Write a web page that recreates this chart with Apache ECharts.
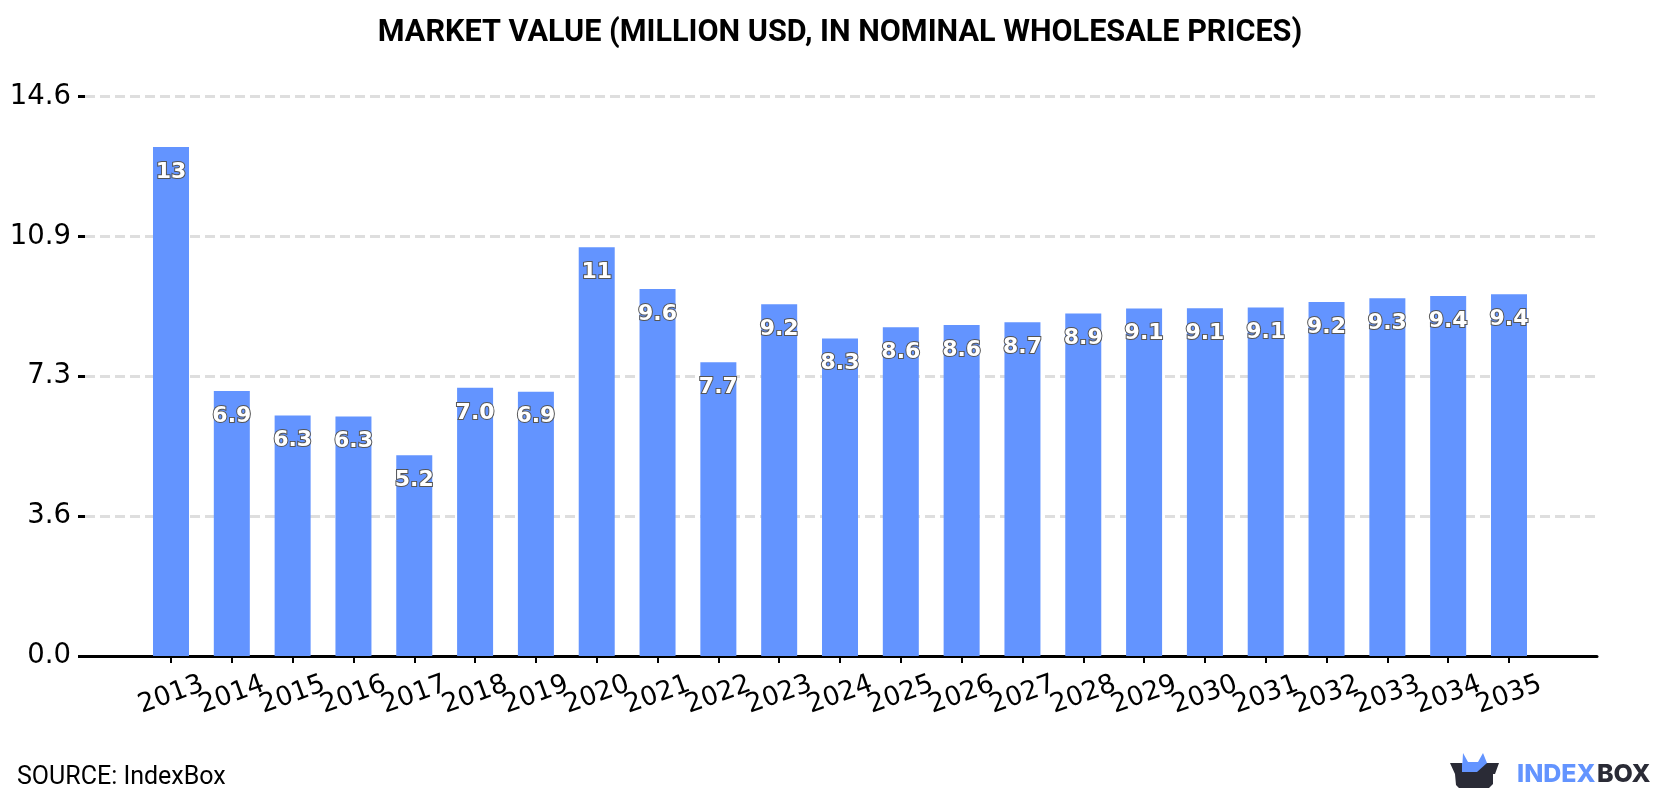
<!DOCTYPE html>
<html>
<head>
<meta charset="utf-8">
<style>html,body{margin:0;padding:0;background:#fff}#chart{width:1680px;height:800px}</style>
<script src="https://cdn.jsdelivr.net/npm/echarts@6/dist/echarts.min.js"></script>
</head>
<body>
<div id="chart"></div>
<script>
const chartTitle = 'MARKET VALUE (MILLION USD, IN NOMINAL WHOLESALE PRICES)';
const sourceText = 'SOURCE: IndexBox';
const years = [2013,2014,2015,2016,2017,2018,2019,2020,2021,2022,2023,2024,2025,2026,2027,2028,2029,2030,2031,2032,2033,2034,2035];
const marketValues = [13.29,6.92,6.28,6.25,5.24,7.0,6.9,10.67,9.58,7.67,9.18,8.29,8.58,8.64,8.71,8.94,9.07,9.08,9.1,9.24,9.34,9.4,9.44];
const yTicks = [0,3.65,7.3,10.95,14.6];
const yTickLabels = ['0.0','3.6','7.3','10.9','14.6'];

const BLUE = '#6394ff';
const DARK = '#2a2b36';
const X_MIN = 2011.586;
const X_MAX = 2036.447;

// The rotated year labels touch their neighbours, and ECharts drops a label that
// overlaps the first or last one. Two axes on one scale carry alternate years.
const yearLabelStyle = {
  showMinLabel: true,
  showMaxLabel: true,
  rotate: 20,
  margin: 39,
  align: 'center',
  verticalAlign: 'middle',
  fontFamily: 'DejaVu Sans',
  fontSize: 26.5,
  color: '#000',
  formatter: v => String(v)
};

const chart = echarts.init(document.getElementById('chart'), null, {renderer: 'canvas'});
chart.setOption({
  animation: false,
  backgroundColor: '#fff',
  title: {
    text: chartTitle,
    left: 'center',
    top: 13,
    textStyle: {fontFamily: 'Roboto', fontWeight: 700, fontSize: 30.6, color: '#000'}
  },
  grid: {left: 85, right: 83, top: 96.7, bottom: 144, containLabel: false},
  xAxis: [{
    type: 'value',
    position: 'bottom',
    min: X_MIN,
    max: X_MAX,
    splitLine: {show: false},
    axisLine: {show: true, onZero: false, lineStyle: {color: '#000', width: 3}},
    axisTick: {show: true, length: 7, customValues: years, lineStyle: {color: '#000', width: 2}},
    axisLabel: {...yearLabelStyle, customValues: years.filter((y, i) => i % 2 === 0)}
  }, {
    type: 'value',
    position: 'bottom',
    min: X_MIN,
    max: X_MAX,
    splitLine: {show: false},
    axisLine: {show: false, onZero: false},
    axisTick: {show: false},
    axisLabel: {...yearLabelStyle, customValues: years.filter((y, i) => i % 2 === 1)}
  }],
  yAxis: {
    type: 'value',
    min: 0,
    max: 14.6,
    interval: 3.65,
    axisLine: {show: false},
    axisTick: {show: true, length: 7, lineStyle: {color: '#000', width: 3}},
    splitLine: {show: true, lineStyle: {color: '#dedede', width: 3, type: [10, 5]}},
    axisLabel: {
      margin: 14,
      padding: [8, 0, 0, 0],
      fontFamily: 'DejaVu Sans',
      fontSize: 27.5,
      color: '#000',
      formatter: v => yTickLabels[yTicks.findIndex(t => Math.abs(t - v) < 1e-6)]
    }
  },
  series: [{
    type: 'bar',
    barWidth: 36,
    data: years.map((y, i) => [y, marketValues[i]]),
    itemStyle: {color: BLUE},
    label: {
      show: true,
      position: 'insideTop',
      distance: 14,
      fontFamily: 'DejaVu Sans',
      fontWeight: 700,
      fontSize: 22,
      color: '#fff',
      textBorderColor: '#555',
      textBorderWidth: 2,
      formatter: p => p.value[1].toPrecision(2)
    }
  }],
  graphic: [
    {type: 'text', left: 17, top: 765, style: {text: sourceText, fontFamily: 'Roboto', fontSize: 25, fill: '#000'}},
    // IndexBox wordmark: open box with two blue flaps
    {type: 'polygon', shape: {points: [[1463,753],[1468,762],[1478,762],[1483,753],[1487,763],[1477,772],[1462,772]]}, style: {fill: BLUE}},
    {type: 'polygon', shape: {points: [[1450,763],[1499,763],[1495,774],[1493,774],[1493,784],[1489,788],[1459,788],[1456,785],[1455,774],[1450,763]]}, style: {fill: DARK}},
    {type: 'polygon', shape: {points: [[1462,763],[1487,763],[1477,772],[1462,772]]}, style: {fill: BLUE}},
    {type: 'text', left: 1517, top: 762, style: {text: 'INDEX', fontFamily: 'Inter', fontWeight: 800, fontSize: 25, fill: BLUE}},
    {type: 'text', left: 1597, top: 762, style: {text: 'BOX', fontFamily: 'Inter', fontWeight: 800, fontSize: 25, fill: DARK}}
  ]
});
</script>
</body>
</html>
